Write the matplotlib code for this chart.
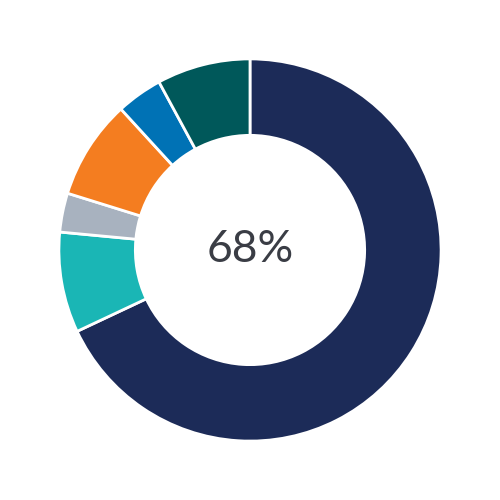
import matplotlib
matplotlib.use("Agg")
import matplotlib.pyplot as plt

labels = ["Navy", "Teal", "Gray", "Orange", "Blue", "Green"]
values = [68, 8.5, 3.3, 8.4, 3.9, 7.9]
colors = ["#1c2b58", "#1ab6b5", "#a8b2bf", "#f47d20", "#0072b5", "#00585a"]
center_label = "68%"

fig = plt.figure(figsize=(5, 5), dpi=100)
ax = fig.add_axes([0.114, 0.114, 0.772, 0.772])
ax.pie(values, colors=colors, startangle=90, counterclock=False,
       wedgeprops=dict(width=0.4, edgecolor="white", linewidth=2))
ax.text(0, 0, center_label, ha="center", va="center", fontsize=32,
        color="#3a3d45", family="Lato")
ax.set_xlim(-1.01, 1.01)
ax.set_ylim(-1.01, 1.01)
ax.set_aspect("equal")
fig.savefig("out.png", dpi=100, facecolor="white")
